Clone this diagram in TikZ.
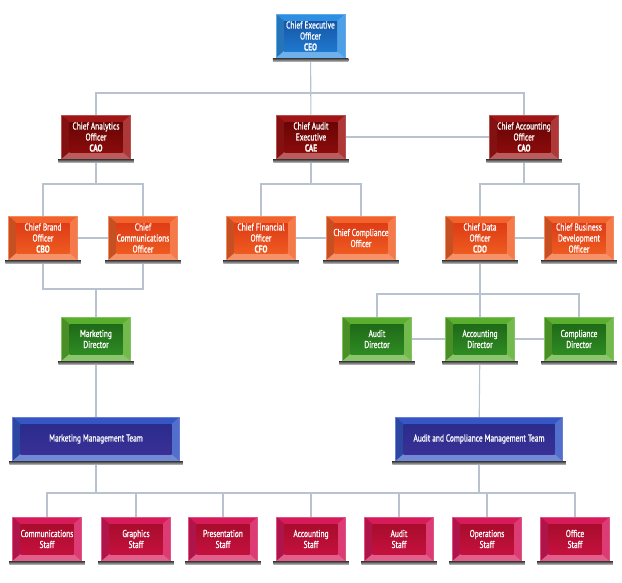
\documentclass[tikz,border=0pt]{standalone}
\usepackage{fontspec}
\newfontfamily\boxfont[FakeStretch=0.74, FakeBold=0.9]{PT Sans}
\usetikzlibrary{calc}

\definecolor{linkgray}{HTML}{B9C2CF}
\definecolor{ceoOut}{HTML}{2E8EE2}
\definecolor{ceoInA}{HTML}{1556A6}
\definecolor{ceoInB}{HTML}{1F78CE}
\definecolor{chiefOut}{HTML}{A01515}
\definecolor{chiefInA}{HTML}{690505}
\definecolor{chiefInB}{HTML}{8A0B0B}
\definecolor{offOut}{HTML}{F2622A}
\definecolor{offInA}{HTML}{DE3C16}
\definecolor{offInB}{HTML}{EE5A20}
\definecolor{dirOut}{HTML}{5AAE2E}
\definecolor{dirInA}{HTML}{1F6A18}
\definecolor{dirInB}{HTML}{2E8A22}
\definecolor{teamOut}{HTML}{3556C4}
\definecolor{teamInA}{HTML}{2A2C8C}
\definecolor{teamInB}{HTML}{3A3096}
\definecolor{staffOut}{HTML}{D61A5A}
\definecolor{staffInA}{HTML}{A80D2C}
\definecolor{staffInB}{HTML}{C4103E}

\newcommand\ppbb{path picture bounding box}

\tikzset{
  link/.style={draw=linkgray, line width=1.1pt},
  orgbox/.style n args={3}{rectangle, minimum width=69pt, minimum height=44pt,
    inner sep=1pt, align=center, text=white, fill=#1, draw=#1!75!white, line width=0.5pt,
    font=\boxfont\fontsize{10}{11}\selectfont,
    path picture={
      \fill[#1!82!black] (\ppbb.north west) -- ([shift={(8pt,-7pt)}]\ppbb.north west)
        -- ([shift={(8pt,7pt)}]\ppbb.south west) -- (\ppbb.south west) -- cycle;
      \fill[#1!85!white] (\ppbb.north east) -- ([shift={(-8pt,-7pt)}]\ppbb.north east)
        -- ([shift={(-8pt,7pt)}]\ppbb.south east) -- (\ppbb.south east) -- cycle;
      \fill[#1!70!white] (\ppbb.south west) -- ([shift={(8pt,7pt)}]\ppbb.south west)
        -- ([shift={(-8pt,7pt)}]\ppbb.south east) -- (\ppbb.south east) -- cycle;
      \fill[top color=#2, bottom color=#3] ([shift={(8pt,-7pt)}]\ppbb.north west)
        rectangle ([shift={(-8pt,7pt)}]\ppbb.south east);
    }},
  ceobox/.style={orgbox={ceoOut}{ceoInA}{ceoInB}},
  chiefbox/.style={orgbox={chiefOut}{chiefInA}{chiefInB}},
  officerbox/.style={orgbox={offOut}{offInA}{offInB}},
  directorbox/.style={orgbox={dirOut}{dirInA}{dirInB}},
  teambox/.style={orgbox={teamOut}{teamInA}{teamInB}, minimum width=167pt},
  staffbox/.style={orgbox={staffOut}{staffInA}{staffInB}},
  basebar/.style={top color=black!75, bottom color=black!30}
}

\begin{document}
\begin{tikzpicture}[x=1pt,y=-1pt]
  \useasboundingbox (0,0) rectangle (622,582);

  % top
  \node[ceobox] (ceo) at (310.5,36) {Chief Executive\\Officer\\\textbf{CEO}};

  % chief officers
  \node[chiefbox] (cao) at (96,137) {Chief Analytics\\Officer\\\textbf{CAO}};
  \node[chiefbox] (cae) at (311,137) {Chief Audit\\Executive\\\textbf{CAE}};
  \node[chiefbox] (cacc) at (524,137) {Chief Accounting\\Officer\\\textbf{CAO}};

  % officers
  \node[officerbox] (cbo) at (43,238) {Chief Brand\\Officer\\\textbf{CBO}};
  \node[officerbox] (cco) at (143,238) {Chief\\Communications\\Officer};
  \node[officerbox] (cfo) at (261,238) {Chief Financial\\Officer\\\textbf{CFO}};
  \node[officerbox] (ccomp) at (361,238) {Chief Compliance\\Officer};
  \node[officerbox] (cdo) at (480,238) {Chief Data\\Officer\\\textbf{CDO}};
  \node[officerbox] (cbdo) at (579,238) {Chief Business\\Development\\Officer};

  % directors
  \node[directorbox] (mkd) at (96,339) {Marketing\\Director};
  \node[directorbox] (aud) at (377,339) {Audit\\Director};
  \node[directorbox] (acd) at (480,339) {Accounting\\Director};
  \node[directorbox] (cod) at (579,339) {Compliance\\Director};

  % teams
  \node[teambox] (mmt) at (96,439) {Marketing Management Team};
  \node[teambox] (acmt) at (479,439) {Audit and Compliance Management Team};

  % staff
  \node[staffbox] (s1) at (47,539) {Communications\\Staff};
  \node[staffbox] (s2) at (136,539) {Graphics\\Staff};
  \node[staffbox] (s3) at (223,539) {Presentation\\Staff};
  \node[staffbox] (s4) at (311,539) {Accounting\\Staff};
  \node[staffbox] (s5) at (399,539) {Audit\\Staff};
  \node[staffbox] (s6) at (487,539) {Operations\\Staff};
  \node[staffbox] (s7) at (575,539) {Office\\Staff};

  % junctions
  \coordinate (j0) at (310.5,93);
  \coordinate (j1) at (96,184);
  \coordinate (j2) at (311,184);
  \coordinate (j3) at (524,184);
  \coordinate (j4) at (96,289);
  \coordinate (j5) at (480,294);
  \coordinate (j6) at (311,493);

  % connectors
  \draw[link] (ceo) -- (cae);
  \draw[link] (cao.north) |- (j0) -| (cacc.north);
  \draw[link] (cae) -- (cacc);

  \draw[link] (cao) -- (j1);
  \draw[link] (cbo.north) |- (j1) -| (cco.north);
  \draw[link] (cae) -- (j2);
  \draw[link] (cfo.north) |- (j2) -| (ccomp.north);
  \draw[link] (cacc) -- (j3);
  \draw[link] (cdo.north) |- (j3) -| (cbdo.north);
  \draw[link] (cbo) -- (cco);
  \draw[link] (cfo) -- (ccomp);
  \draw[link] (cdo) -- (cbdo);

  \draw[link] (cbo.south) |- (j4) -| (cco.south);
  \draw[link] (j4) -- (mkd);
  \draw[link] (mkd) -- (mmt);

  \draw[link] (cdo) -- (acd);
  \draw[link] (aud.north) |- (j5) -| (cod.north);
  \draw[link] (aud) -- (acd);
  \draw[link] (acd) -- (cod);
  \draw[link] (acd) -- (acmt);

  \draw[link] (s1.north) |- (j6) -| (s7.north);
  \draw[link] (mmt.south) -- (mmt.south |- j6);
  \draw[link] (acmt.south) -- (acmt.south |- j6);
  \foreach \s in {s2,s3,s4,s5,s6}
    \draw[link] (\s.north) -- (\s.north |- j6);

  % base bars
  \foreach \n in {ceo,cao,cae,cacc,cbo,cco,cfo,ccomp,cdo,cbdo,mkd,aud,acd,cod,mmt,acmt,s1,s2,s3,s4,s5,s6,s7}
    \fill[basebar] ([xshift=-3pt]\n.south west) rectangle ([xshift=3pt,yshift=-3pt]\n.south east);
\end{tikzpicture}
\end{document}
